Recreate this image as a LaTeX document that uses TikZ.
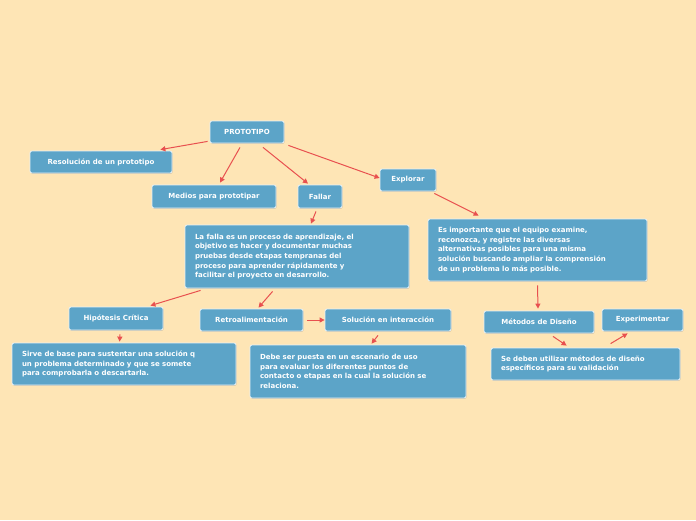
\documentclass[tikz,border=0pt]{standalone}
\usepackage{fontspec}
\setmainfont{DejaVu Sans}
\usetikzlibrary{calc,arrows.meta,shadows}
\definecolor{bg}{HTML}{FEE5B5}
\definecolor{boxc}{HTML}{5CA4C8}
\definecolor{arr}{HTML}{E8504F}
\tikzset{
 box/.style={draw=white!85!boxc,line width=0.8pt,fill=boxc,rounded corners=2pt,text=white,font=\bfseries\fontsize{7}{9.6}\selectfont,inner sep=0pt,drop shadow={shadow xshift=0.6pt,shadow yshift=-0.8pt,opacity=0.35}},
 tbox/.style={box,align=left,text width=#1},
 con/.style={draw=arr,line width=1pt,-{Triangle[length=5pt,width=5pt]}}
}
\begin{document}
\begin{tikzpicture}[x=1pt,y=-1pt]
\fill[bg] (0,0) rectangle (696,520);
\useasboundingbox (0,0) rectangle (696,520);
\newcommand{\bx}[6]{\node[box,minimum width=#4-#2,minimum height=#5-#3] (#1) at ({(#2+#4)/2},{(#3+#5)/2}) {#6};}
\newcommand{\tb}[6]{\node[box,minimum width=#4-#2,minimum height=#5-#3,align=left,text width=#4-#2-20] (#1) at ({(#2+#4)/2},{(#3+#5)/2}) {#6};}
\bx{P}{210}{121}{284}{143}{PROTOTIPO}
\bx{R}{30}{151}{172}{173}{Resolución de un prototipo}
\bx{M}{152}{185}{276}{208}{Medios para prototipar}
\bx{F}{298}{185}{342}{208}{Fallar}
\bx{E}{380}{169}{436}{191}{Explorar}
\tb{FA}{185}{225}{409}{288}{La falla es un proceso de aprendizaje, el\\objetivo es hacer y documentar muchas\\pruebas desde etapas tempranas del\\proceso para aprender rápidamente y\\facilitar el proyecto en desarrollo.}
\tb{EI}{428}{219}{647}{281}{Es importante que el equipo examine,\\reconozca, y registre las diversas\\alternativas posibles para una misma\\solución buscando ampliar la comprensión\\de un problema lo más posible.}
\bx{H}{69}{307}{163}{330}{Hipótesis Crítica}
\bx{RE}{200}{309}{303}{331}{Retroalimentación}
\bx{S}{325}{309}{451}{331}{Solución en interacción}
\tb{SI}{12}{343}{236}{385}{Sirve de base para sustentar una solución q\\un problema determinado y que se somete\\para comprobarla o descartarla.}
\tb{D}{250}{345}{466}{398}{Debe ser puesta en un escenario de uso\\para evaluar los diferentes puntos de\\contacto o etapas en la cual la solución se\\relaciona.}
\bx{ME}{484}{311}{594}{333}{Métodos de Diseño}
\bx{EX}{602}{309}{683}{331}{Experimentar}
\tb{SD}{491}{348}{680}{380}{Se deben utilizar métodos de diseño\\específicos para su validación}
\draw[con] ($(P.south west)+(-2,-2)$) -- ($(R.north east)+(-12,-1)$);
\draw[con] ($(P.south)+(-7,4)$) -- ($(M.north)+(6,-2)$);
\draw[con] ($(P.south)+(16,4)$) -- ($(F.north)+(-12,-1)$);
\draw[con] ($(P.south east)+(4,2)$) -- ($(E.west)+(0,-2)$);
\draw[con] ($(E.south east)+(-2,2)$) -- ($(EI.north west)+(51,-3)$);
\draw[con] ($(F.south)+(-4,3)$) -- ($(FA.north)+(14,-1)$);
\draw[con] ($(FA.south west)+(16,2)$) -- ($(H.north east)+(-13,-1)$);
\draw[con] ($(FA.south west)+(88,3)$) -- ($(RE.north)+(7,-1)$);
\draw[con] ($(RE.east)+(4,0)$) -- (S.west);
\draw[con] ($(H.south)+(4,4)$) -- ($(SI.north west)+(108,-1)$);
\draw[con] ($(S.south)+(-10,4)$) -- ($(D.north west)+(122,-1)$);
\draw[con] ($(EI.south)+(0,4)$) -- ($(ME.north)+(-1,-2)$);
\draw[con] ($(ME.south)+(14,3)$) -- ($(SD.north west)+(76,-2)$);
\draw[con] ($(SD.north west)+(120,-4)$) -- ($(EX.south west)+(26,2)$);
\end{tikzpicture}
\end{document}
